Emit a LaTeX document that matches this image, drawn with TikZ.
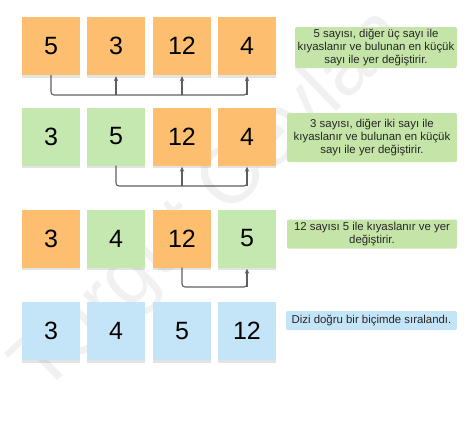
\documentclass[tikz,border=0pt]{standalone}
\usepackage{fontspec}
\setmainfont{Liberation Sans}
\usetikzlibrary{shadows,arrows.meta}

\definecolor{turuncu}{RGB}{253,191,111}
\definecolor{yesil}{RGB}{197,231,176}
\definecolor{mavi}{RGB}{196,228,248}
\definecolor{notyesil}{RGB}{196,228,168}
\definecolor{cizgi}{RGB}{95,95,95}

\tikzset{
  sayi/.style={minimum width=58, minimum height=58, inner sep=0pt,
    font=\fontsize{25}{30}\selectfont,
    drop shadow={shadow xshift=0pt, shadow yshift=-2.5pt, opacity=.22}},
  not/.style={rounded corners=2pt, inner sep=1pt, align=center, text=black!85,
    font=\fontsize{11.4}{13.4}\selectfont},
  hat/.style={draw=cizgi, line width=1.1pt, rounded corners=3pt},
  ok/.style={draw=cizgi, line width=1.1pt, -{Stealth[length=5pt,width=4.5pt]}, shorten >=1pt}
}

\begin{document}
\begin{tikzpicture}[x=1pt,y=1pt,yscale=-1]
\useasboundingbox (0,0) rectangle (474,421);

% filigran
\node[rotate=44, text=gray!11, font=\fontsize{82}{90}\selectfont] (fil) at (212,202) {Turgut Ceylan};

% 1. satir
\node[sayi, fill=turuncu] (a1) at (51,46) {5};
\node[sayi, fill=turuncu] (a2) at (116,46) {3};
\node[sayi, fill=turuncu] (a3) at (182,46) {12};
\node[sayi, fill=turuncu] (a4) at (247,46) {4};
\coordinate (ja) at (247,95);
\coordinate (ka) at (247,88);
\draw[hat] (a1.south) |- (ja) -- (ka);
\draw[ok] (a2.south |- ja) -- (a2.south);
\draw[ok] (a3.south |- ja) -- (a3.south);
\draw[ok] (a4.south |- ja) -- (a4.south);
\node[not, fill=notyesil, minimum width=162, minimum height=41] (na) at (376,47.5)
  {5 sayısı, diğer üç sayı ile\\kıyaslanır ve bulunan en küçük\\sayı ile yer değiştirir.};

% 2. satir
\node[sayi, fill=yesil] (b1) at (51,136.5) {3};
\node[sayi, fill=yesil] (b2) at (116,136.5) {5};
\node[sayi, fill=turuncu] (b3) at (182,136.5) {12};
\node[sayi, fill=turuncu] (b4) at (247,136.5) {4};
\coordinate (jb) at (247,186);
\coordinate (kb) at (247,179);
\draw[hat] (b2.south) |- (jb) -- (kb);
\draw[ok] (b3.south |- jb) -- (b3.south);
\draw[ok] (b4.south |- jb) -- (b4.south);
\node[not, fill=notyesil, minimum width=170, minimum height=49] (nb) at (372,137.5)
  {3 sayısı, diğer iki sayı ile\\kıyaslanır ve bulunan en küçük\\sayı ile yer değiştirir.};

% 3. satir
\node[sayi, fill=turuncu] (c1) at (51,238.5) {3};
\node[sayi, fill=yesil] (c2) at (116,238.5) {4};
\node[sayi, fill=turuncu] (c3) at (182,238.5) {12};
\node[sayi, fill=yesil] (c4) at (247,238.5) {5};
\coordinate (jc) at (247,287);
\coordinate (kc) at (247,280);
\draw[hat] (c3.south) |- (jc) -- (kc);
\draw[ok] (c4.south |- jc) -- (c4.south);
\node[not, fill=notyesil, minimum width=170, minimum height=29] (nc) at (372,234)
  {12 sayısı 5 ile kıyaslanır ve yer\\değiştirir.};

% 4. satir
\node[sayi, fill=mavi] (d1) at (51,331) {3};
\node[sayi, fill=mavi] (d2) at (116,331) {4};
\node[sayi, fill=mavi] (d3) at (182,331) {5};
\node[sayi, fill=mavi] (d4) at (247,331) {12};
\node[not, fill=mavi, minimum width=171, minimum height=19] (nd) at (371.5,320.5)
  {Dizi doğru bir biçimde sıralandı.};
\end{tikzpicture}
\end{document}
